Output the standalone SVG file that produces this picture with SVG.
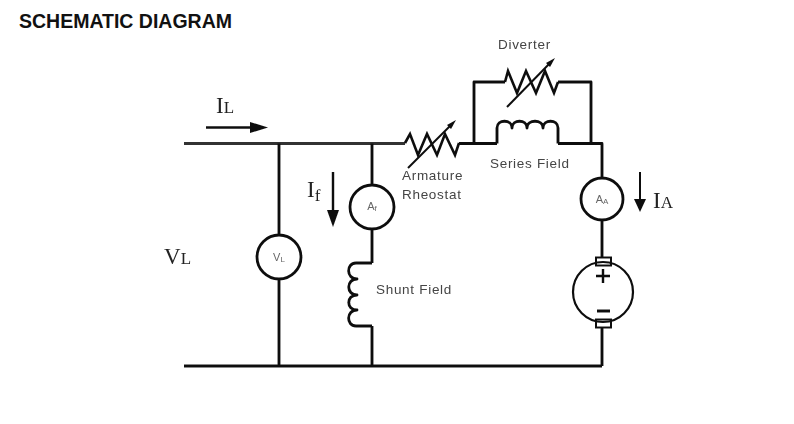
<svg xmlns="http://www.w3.org/2000/svg" width="794" height="424" viewBox="0 0 794 424">
<style>
.w{fill:none;stroke:#111;stroke-width:2.8;stroke-linejoin:round}
.g{fill:none;stroke:#111;stroke-width:2}
.m{fill:#fff;stroke:#111;stroke-width:2.800}
.a{fill:#111;stroke:none}
.s{font-family:"Liberation Sans",Arial,sans-serif;font-size:13.500px;letter-spacing:.7px;fill:#444}
.t{font-family:"Liberation Sans",Arial,sans-serif;font-size:11px;fill:#666;text-anchor:middle}
.b{font-family:"Liberation Serif","Times New Roman",serif;font-size:23px;fill:#222}
.sm{font-size:17px}
</style>
<defs><filter id="soft" x="-5%" y="-5%" width="110%" height="110%"><feGaussianBlur stdDeviation="0.4"/></filter></defs>
<rect width="794" height="424" fill="#fff"/>
<text id="title" x="19" y="28" font-family="Liberation Sans,Arial,sans-serif" font-weight="700" font-size="19.400" fill="#111" textLength="213" lengthAdjust="spacingAndGlyphs">SCHEMATIC DIAGRAM</text>
<g filter="url(#soft)">
<g id="connectors">
<path class="w" style="stroke:#333;stroke-width:3.200" d="M184 143.500H405"/>
<path class="w" d="M459 143.500H497M558 143.500H602V178M602 220V257M602 327V366M184 366H602M279 143.500V235M279 279V366M372 143.500V185M372 229V263M372 326V366M474 143.500V82H505M558 82H591V143.500"/>
</g>
<g id="armature-rheostat">
<path class="g" style="stroke-width:2.600" d="M405 143L410 134L418 155L427 134L437 155L445 134L455 155L459 143"/>
<path class="g" d="M408 168L452 124"/><path class="a" d="M456 120L447 125L451 129Z"/>
<text class="s" x="402" y="180">Armature</text><text class="s" x="402" y="199">Rheostat</text>
</g>
<g id="diverter">
<path class="g" style="stroke-width:2.600" d="M505 82L508 71L517 93L526 71L536 93L545 71L554 93L558 82"/>
<path class="g" d="M507 107L551 62"/><path class="a" d="M555 58L546 63L550 67Z"/>
<text class="s" x="498" y="49">Diverter</text>
</g>
<g id="series-field">
<path class="w" d="M497 143.500V128C497 119 512 119 512 128C512 119 527 119 527 128C527 119 543 119 543 128C543 119 558 119 558 128V143.500"/>
<text class="s" x="490" y="168">Series Field</text>
</g>
<g id="ammeter-a"><circle class="m" cx="602" cy="199" r="21"/><text class="t" x="602" y="203">A<tspan font-size="8" dy="1">A</tspan></text></g>
<g id="label-ia"><path class="g" d="M640 172V200"/><path class="a" d="M634 199H646L640 212Z"/><text class="b" x="653" y="208">I<tspan class="sm">A</tspan></text></g>
<g id="motor">
<rect class="g" x="596" y="257.500" width="15" height="8"/><rect class="g" x="596" y="319.500" width="15" height="8"/>
<circle class="g" style="stroke-width:2.200" cx="603" cy="292" r="30"/>
<path class="g" style="stroke-width:2.400" d="M596 276H610M603 269V283"/><path class="w" style="stroke-width:3" d="M597 311H610"/>
</g>
<g id="ammeter-f"><circle class="m" cx="372" cy="207" r="22"/><text class="t" x="372" y="210">A<tspan font-size="8" dy="1">f</tspan></text></g>
<g id="voltmeter"><circle class="m" cx="279" cy="257" r="22"/><text class="t" x="279" y="261">V<tspan font-size="8" dy="1">L</tspan></text></g>
<g id="shunt-field">
<path class="w" d="M372 263H356C346 263 346 279 357 279C346 279 346 295 357 295C346 295 346 310 357 310C346 310 346 326 356 326H372"/>
<text class="s" x="376" y="294">Shunt Field</text>
</g>
<g id="label-il"><text class="b" x="216" y="113">I<tspan class="sm">L</tspan></text><path class="g" style="stroke-width:2.400" d="M206 127.500H252"/><path class="a" d="M250 122L268 127.500L250 133Z"/></g>
<g id="label-if"><text class="b" x="307" y="197">I<tspan class="sm" dy="4">f</tspan></text><path class="g" style="stroke-width:2.400" d="M333 172V212"/><path class="a" d="M327 210H339L333 227Z"/></g>
<g id="label-vl"><text class="b" x="164" y="264">V<tspan class="sm">L</tspan></text></g>
</g>
</svg>
